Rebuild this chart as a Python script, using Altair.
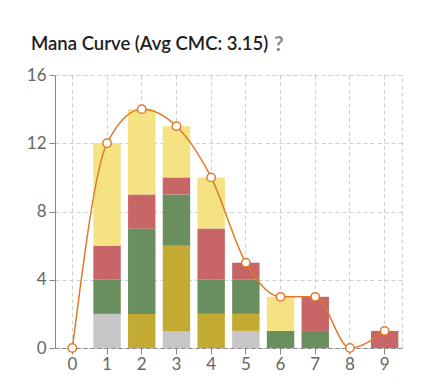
import altair as alt
import pandas as pd

cmc = ["0", "1", "2", "3", "4", "5", "6", "7", "8", "9"]
colors = ["Colorless", "Multicolor", "Green", "Red", "White"]
colorless = [0, 2, 0, 1, 0, 1, 0, 0, 0, 0]
multicolor = [0, 0, 2, 5, 2, 1, 0, 0, 0, 0]
green = [0, 2, 5, 3, 2, 2, 1, 1, 0, 0]
red = [0, 2, 2, 1, 3, 1, 0, 2, 0, 1]
white = [0, 6, 5, 3, 3, 0, 2, 0, 0, 0]
palette = ["#c6c5c8", "#c3aa33", "#6a8f5e", "#c86667", "#f4e283"]
title_text = ["Mana Curve (Avg CMC: 3.15)"]
help_mark = ["?"]

series = [colorless, multicolor, green, red, white]
rows = []
for name, vals in zip(colors, series):
    for i, c in enumerate(cmc):
        rows.append({"cmc": c, "color": name, "count": vals[i], "order": colors.index(name)})
bars_df = pd.DataFrame(rows)
totals = [sum(s[i] for s in series) for i in range(len(cmc))]
line_df = pd.DataFrame({"cmc": cmc, "total": totals})

xenc = alt.X("cmc:N", sort=cmc, scale=alt.Scale(paddingInner=0.21, paddingOuter=0.105, align=0.5),
             axis=alt.Axis(title=None, labelAngle=0, grid=True, gridDash=[4, 3], gridColor="#cfcfcf",
                           domainColor="#888", domainDash=[4, 3], tickColor="#888", tickSize=6,
                           labelFontSize=17, labelColor="#666", labelFont="Lato", labelPadding=2,
                           bandPosition=0.5))
yscale = alt.Scale(domain=[0, 16])
yaxis = alt.Axis(title=None, values=[0, 4, 8, 12, 16], grid=True, gridDash=[4, 3], gridColor="#cfcfcf",
                 domainColor="#888", tickColor="#888", tickSize=6, labelFontSize=17, labelColor="#666",
                 labelFont="Lato", labelPadding=3)

bars = alt.Chart(bars_df).mark_bar().encode(
    x=xenc,
    y=alt.Y("count:Q", stack="zero", scale=yscale, axis=yaxis),
    color=alt.Color("color:N", scale=alt.Scale(domain=colors, range=palette), legend=None),
    order=alt.Order("order:Q"),
)

line = alt.Chart(line_df).mark_line(color="#e07a2a", strokeWidth=1.5, interpolate="monotone").encode(
    x=alt.X("cmc:N", sort=cmc),
    y=alt.Y("total:Q", scale=yscale),
)
pts = alt.Chart(line_df).mark_point(filled=True, fill="white", stroke="#e07a2a", strokeWidth=1.5,
                                    size=70, opacity=1).encode(
    x=alt.X("cmc:N", sort=cmc),
    y=alt.Y("total:Q", scale=yscale),
)
title = alt.Chart(pd.DataFrame({"t": title_text})).mark_text(
    font="Lato", fontSize=18.5, fontWeight=600, color="#1e1e1e", align="left", baseline="alphabetic"
).encode(text="t:N", x=alt.value(-24), y=alt.value(-25))
qmark = alt.Chart(pd.DataFrame({"t": help_mark})).mark_text(
    font="Lato", fontSize=21, fontWeight="bold", color="#8a8a8a", align="left", baseline="alphabetic"
).encode(text="t:N", x=alt.value(219), y=alt.value(-24))

chart = alt.layer(bars, line, pts, title, qmark).properties(
    width=347, height=273,
    autosize=alt.AutoSizeParams(type="none"),
    padding={"left": 47, "top": 67, "right": 10, "bottom": 30},
).configure_view(stroke="#d0d0d0", strokeDash=[4, 3])

chart.save("out.html", embed_options={"renderer": "svg", "actions": False})
